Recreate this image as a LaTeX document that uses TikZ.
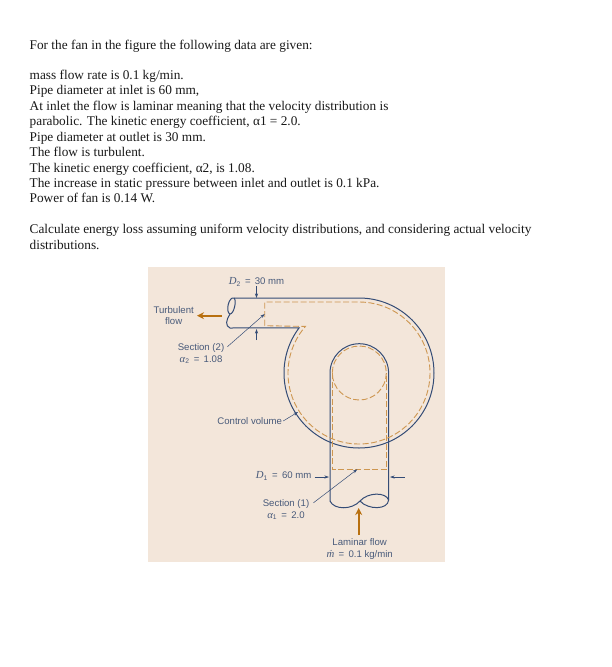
\documentclass[tikz,border=0pt]{standalone}
\usepackage{fontspec}
\usetikzlibrary{arrows.meta}
\setmainfont{Liberation Serif}
\newfontfamily\labelfont{Liberation Sans}
\newfontfamily\symfont{Liberation Serif}[Scale=1.12]
\newcommand{\sym}[2]{{\symfont\itshape #1}\textsubscript{#2}}
\definecolor{paper}{RGB}{243,230,218}
\definecolor{ductblue}{RGB}{52,76,118}
\definecolor{labelblue}{RGB}{72,90,122}
\definecolor{cvorange}{RGB}{205,150,80}
\definecolor{floworange}{RGB}{184,112,16}
\definecolor{inkblack}{RGB}{25,25,25}

\begin{document}
\begin{tikzpicture}[x=1pt,y=-1pt,>=stealth,
	duct/.style={line width=1pt,color=ductblue},
	cv/.style={line width=.9pt,color=cvorange,dash pattern=on 6pt off 2.5pt},
	leader/.style={line width=.5pt,color=ductblue,-{Stealth[length=4.5pt,width=3pt]}},
	flow/.style={line width=1.6pt,color=floworange,-{Stealth[length=7pt,width=7pt]}},
	para/.style={anchor=base west,inner sep=0pt,color=inkblack,font=\fontsize{13.3}{15}\selectfont},
	lab/.style={inner sep=0pt,color=labelblue,font=\labelfont\fontsize{9.6}{11.5}\selectfont}]
	\useasboundingbox (0,0) rectangle (611,667);
	\fill[white] (0,0) rectangle (611,667);
	\fill[paper] (148,267) rectangle (445,562);
	% question text
	\foreach \i/\y/\t in {1/49/{For the fan in the figure the following data are given:},
		2/79/{mass flow rate is 0.1 kg/min.},
		3/94/{Pipe diameter at inlet is 60 mm,},
		4/110/{At inlet the flow is laminar meaning that the velocity distribution is},
		5/125/{parabolic. The kinetic energy coefficient, α1 = 2.0.},
		6/141/{Pipe diameter at outlet is 30 mm.},
		7/156/{The flow is turbulent.},
		8/172/{The kinetic energy coefficient, α2, is 1.08.},
		9/187/{The increase in static pressure between inlet and outlet is 0.1 kPa.},
		10/202/{Power of fan is 0.14 W.},
		11/233/{Calculate energy loss assuming uniform velocity distributions, and considering actual velocity},
		12/249/{distributions.}}
	\node[para] (line\i) at (29.5,\y) {\t};
	% scroll and outlet pipe
	\draw[duct] (234,298) -- (359,298) arc[start angle=-90,delta angle=307,radius=75] coordinate (tongue) -- (230,328)
		.. controls (225,326) and (226,320) .. (230,314);
	\draw[duct] (234,298) .. controls (229,296) and (225,312) .. (230,314) .. controls (234,314) and (237,300) .. (234,298);
	% inlet pipe
	\draw[duct] (330,501) -- (330,373) arc[start angle=180,delta angle=180,radius=29.3] -- (388.6,500);
	\draw[duct] (330,501) .. controls (334,510) and (352,510) .. (360,501)
		.. controls (368,492) and (386,492) .. (388.6,500)
		.. controls (388,510) and (368,510) .. (360,501);
	% control volume
	\draw[cv] (264.7,325.7) -- (264.7,302) -- (359,302) arc[start angle=-90,delta angle=311,radius=71] coordinate (cvtip) -- cycle;
	\draw[cv] (359.3,373) circle[radius=27];
	\draw[cv] (332.3,373) -- (332.3,469.3) coordinate (cvleft) -- (386.3,469.3) -- (386.3,373);
	% labels
	\node[lab] (dtwo) at (256.5,282) {\sym{D}{2}\,{} = {}\,30 mm};
	\node[lab,align=center] (turb) at (173.7,315.5) {Turbulent\\flow};
	\node[lab,align=center] (sectwo) at (201,354) {Section (2)\\\sym{α}{2}\,{} = {}\,1.08};
	\node[lab] (cvlab) at (249.7,421) {Control volume};
	\node[lab] (done) at (283.7,476) {\sym{D}{1}\,{} = {}\,60 mm};
	\node[lab,align=center] (secone) at (286,510) {Section (1)\\\sym{α}{1}\,{} = {}\,2.0};
	\node[lab,align=center] (lam) at (359.7,549) {Laminar flow\\{\symfont\itshape ṁ}\,{} = {}\,0.1 kg/min};
	% arrows
	\coordinate (dtwotop) at (256.5,298);
	\coordinate (dtwobot) at (256.5,329);
	\coordinate (dtwotail) at (256.5,340);
	\coordinate (secttwotip) at (264.7,314);
	\coordinate (cvhit) at (298,412);
	\coordinate (donel) at (329,477);
	\coordinate (doner) at (390,477);
	\coordinate (donetail) at (404.7,477);
	\coordinate (sectonetip) at (357.3,469.3);
	\draw[leader] (dtwo.south -| dtwotop) -- (dtwotop);
	\draw[leader] (dtwotail) -- (dtwobot);
	\draw[leader] (sectwo.east |- 0,346.7) ++(3,0) -- (secttwotip);
	\draw[leader] (cvlab.east) ++(1,0) -- (cvhit);
	\draw[leader] (done.east) ++(3,1) -- (donel);
	\draw[leader] (donetail) -- (doner);
	\draw[leader] (secone.north east) ++(4,3) -- (sectonetip);
	\draw[flow] (222,315.7) -- (197,315.7);
	\draw[flow] (358.7,535) -- (358.7,508);
\end{tikzpicture}
\end{document}
